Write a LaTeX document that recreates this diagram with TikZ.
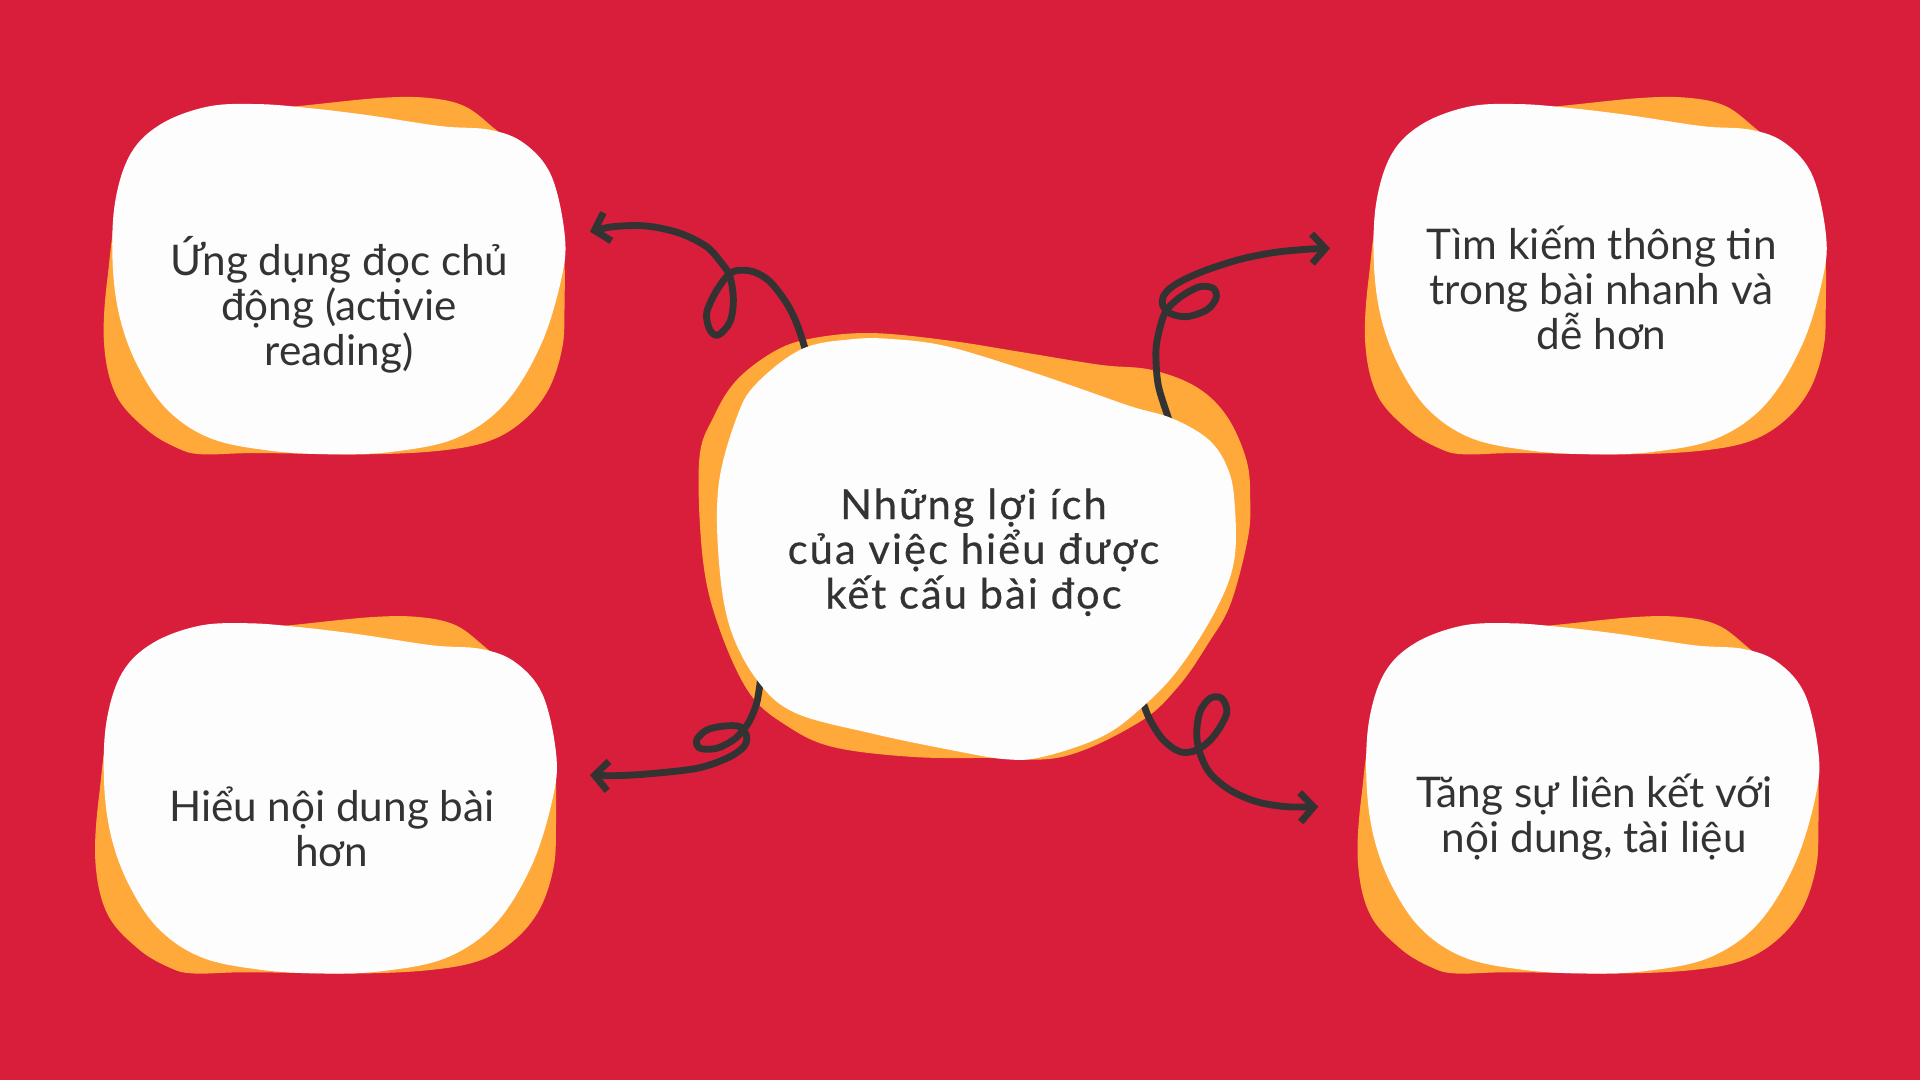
\documentclass[tikz,border=0pt]{standalone}
\usepackage{fontspec}
\setmainfont{Lato}
\newfontfamily\ctrfont[LetterSpace=5,FakeBold=0.5]{Lato}
\usetikzlibrary{arrows.meta}
\definecolor{bgred}{HTML}{D81E3A}
\definecolor{bloborange}{HTML}{FFA93B}
\definecolor{blobwhite}{HTML}{FDFDFD}
\definecolor{ink}{HTML}{333333}
\tikzset{
  orangefill/.style={fill=bloborange,draw=none},
  whitefill/.style={fill=blobwhite,draw=none},
  curl/.style={draw=ink,line width=5.6pt,line cap=round,line join=round,
    -{Straight Barb[length=11pt,width=24pt]}},
  lbl/.style={text=ink,align=center,font=\fontsize{34.5}{36.5}\selectfont},
  ctrlbl/.style={text=ink,align=center,font=\ctrfont\fontsize{34}{36.5}\selectfont},
}
\newcommand{\sideblob}[2]{%
  \begin{scope}[shift={(#1,#2)}]
    \fill[orangefill] plot[smooth cycle,tension=0.6] coordinates {
      (200,90) (240,87) (310,80) (350,80) (380,87) (405,106) (428,125) (450,157)
      (460,197) (461,253) (459,285) (448,318) (428,343) (400,360) (360,368)
      (300,371) (210,370) (165,371) (145,366) (120,351) (95,323) (85,281)
      (88,225) (100,160) (140,100)};
    \fill[whitefill] plot[smooth cycle,tension=0.6] coordinates {
      (210,85) (250,88) (300,94) (360,103) (400,106) (428,117) (450,143)
      (461,190) (459,225) (442,281) (412,330) (372,358) (320,369)
      (270,371) (220,368) (172,358) (137,335) (113,300) (98,260) (92,215)
      (94,165) (107,125) (132,101) (170,87)};
  \end{scope}}
\begin{document}
\begin{tikzpicture}[x=1pt,y=-1pt]
\fill[bgred] (0,0) rectangle (1568,882);
\useasboundingbox (0,0) rectangle (1568,882);
% side blobs
\sideblob{0}{0}
\sideblob{1030}{0}
\sideblob{-7}{424}
\sideblob{1024}{424}
% centre blob, orange layer
\fill[orangefill] plot[smooth cycle,tension=0.6] coordinates {
  (634,286) (665,276) (712,272) (774,278) (837,288) (899,298) (940,302)
  (977,316) (1002,340) (1018,376) (1021,408) (1019,440) (1005,493) (987,525)
  (962,561) (930,590) (868,618) (805,619) (743,618) (680,610) (643,593)
  (612,566) (587,512) (574,457) (571,376) (583,340) (602,310)};
% curly connectors
\draw[curl] plot[smooth,tension=0.55] coordinates {
  (659,293) (657.4,284.5) (650.6,264.1) (642.4,247.7) (628.8,230) (615.2,221.9)
  (601.6,221) (593.4,226) (583.9,239.6) (577.1,255.9) (579.8,269.5)
  (586.6,273.6) (596.2,262.7) (598.9,245) (596.2,226) (589.4,215)
  (577.1,201.5) (555.3,190.5) (528.1,184.6) (500.9,185.1) (481.8,189.2)};
\draw[curl] plot[smooth,tension=0.55] coordinates {
  (957,350) (953.8,340.3) (946,315) (944,292) (945,277.7) (950,258.6)
  (955.5,249.9) (966.4,240.9) (980,234.1) (990.9,235.5) (993.1,243.6)
  (985.4,253.2) (969.1,258.6) (955.5,255.9) (949.5,249.1) (950,242.3)
  (955.5,235.5) (966.4,228.7) (985.4,220.5) (1012.7,211.8) (1039.9,206.3)
  (1067.1,203.6) (1086.2,202.8)};
\draw[curl] plot[smooth,tension=0.55] coordinates {
  (621.5,550) (620.7,558.1) (617.9,574.4) (612.5,588) (607,596.2)
  (598.9,604.3) (585.3,611.1) (571.7,611.1) (569,604.3) (577.2,596.2)
  (590.8,593) (604.3,593.5) (609.8,601.6) (607,610.3) (593.4,619.3)
  (568.9,627.5) (528.1,632.1) (500.9,633.5) (481.8,632.9)};
\draw[curl] plot[smooth,tension=0.55] coordinates {
  (931,566) (933.7,574.4) (939.2,588) (950,604.3) (963.7,613.9) (977.3,612.5)
  (990.9,601.6) (1001.8,582.5) (997.7,570.3) (988.2,570.3) (980,581.2)
  (977.3,598.9) (980,615.2) (988.2,631.5) (1004.5,645.2) (1026.3,654.7)
  (1050.8,658.8) (1076.6,658.8)};
% centre blob, white layer
\fill[whitefill] plot[smooth cycle,tension=0.6] coordinates {
  (655,285) (696,277) (730,277) (774,283) (837,302) (884,318) (924,332)
  (958,342) (987,359) (1002,381) (1008,408) (1008,457) (993,498) (962,547)
  (930,580) (899,602) (852,618) (821,620) (774,612) (712,599) (649,582)
  (618,555) (596,512) (587,457) (587,395) (602,340) (618,313)};
% texts
\node[lbl] (tl) at (277,249) {Ứng dụng đọc chủ\\động (activie\\reading)};
\node[lbl] (tr) at (1308,235) {Tìm kiếm thông tin\\trong bài nhanh và\\dễ hơn};
\node[lbl] (bl) at (271,675) {Hiểu nội dung bài\\hơn};
\node[lbl] (br) at (1302,667) {Tăng sự liên kết với\\nội dung, tài liệu};
\node[ctrlbl] (ctr) at (795,451) {Những lợi ích\\của việc hiểu được\\kết cấu bài đọc};
\end{tikzpicture}
\end{document}
